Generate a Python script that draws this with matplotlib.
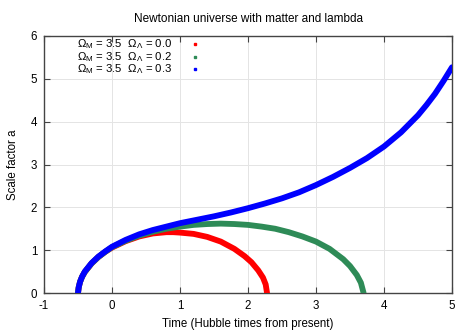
import matplotlib
matplotlib.use("Agg")
import matplotlib.pyplot as plt

plt.rcParams["font.family"] = ["Liberation Sans", "DejaVu Sans"]
plt.rcParams["mathtext.fontset"] = "custom"
plt.rcParams["mathtext.rm"] = "Liberation Sans"
plt.rcParams["mathtext.it"] = "Liberation Sans:italic"
plt.rcParams["axes.unicode_minus"] = False

# scale factor vs time
t_l00 = [-0.50, -0.49, -0.47, -0.44, -0.40, -0.30, -0.20, -0.10, 0.00, 0.20, 0.40, 0.60,
         0.80, 0.90, 1.00, 1.20, 1.40, 1.60, 1.80, 1.95, 2.05, 2.15, 2.22, 2.26, 2.28]
a_l00 = [0.00, 0.13, 0.26, 0.38, 0.49, 0.69, 0.84, 0.96, 1.06, 1.21, 1.32, 1.39,
         1.42, 1.42, 1.41, 1.38, 1.31, 1.20, 1.03, 0.86, 0.72, 0.53, 0.36, 0.20, 0.00]

t_l02 = [-0.50, -0.49, -0.47, -0.44, -0.40, -0.30, -0.20, -0.10, 0.00, 0.20, 0.40, 0.60,
         0.80, 1.00, 1.20, 1.40, 1.60, 1.80, 2.00, 2.20, 2.40, 2.60, 2.80, 3.00,
         3.20, 3.40, 3.50, 3.60, 3.66, 3.70]
a_l02 = [0.00, 0.13, 0.26, 0.38, 0.49, 0.69, 0.84, 0.96, 1.07, 1.22, 1.34, 1.43,
         1.50, 1.55, 1.59, 1.61, 1.62, 1.61, 1.59, 1.55, 1.50, 1.42, 1.32, 1.20,
         1.03, 0.79, 0.63, 0.42, 0.24, 0.00]

t_l03 = [-0.50, -0.49, -0.47, -0.44, -0.40, -0.30, -0.20, -0.10, 0.00, 0.20, 0.40, 0.60,
         0.80, 1.00, 1.25, 1.50, 1.75, 2.00, 2.25, 2.50, 2.75, 3.00, 3.25, 3.50,
         3.75, 4.00, 4.25, 4.50, 4.625, 4.75, 4.875, 5.00]
a_l03 = [0.00, 0.13, 0.26, 0.38, 0.50, 0.70, 0.85, 0.97, 1.08, 1.24, 1.37, 1.47,
         1.55, 1.63, 1.71, 1.79, 1.88, 1.98, 2.09, 2.21, 2.35, 2.52, 2.71, 2.92,
         3.15, 3.42, 3.75, 4.15, 4.39, 4.65, 4.95, 5.27]

labels = [r"$\Omega_{\rm M}$ = 3.5  $\Omega_{\Lambda}$ = 0.0",
          r"$\Omega_{\rm M}$ = 3.5  $\Omega_{\Lambda}$ = 0.2",
          r"$\Omega_{\rm M}$ = 3.5  $\Omega_{\Lambda}$ = 0.3"]
colors = ["#ff0000", "#2e8b57", "#0000ff"]

W, H = 474, 331
fig = plt.figure(figsize=(W / 100, H / 100), dpi=100)
ax = fig.add_axes([44 / W, 1 - 293 / H, 408 / W, 257 / H])

for t, a, c in zip([t_l00, t_l02, t_l03], [a_l00, a_l02, a_l03], colors):
    ax.plot(t, a, color=c, lw=4.2, solid_capstyle="round", solid_joinstyle="round", zorder=3)

ax.set_xlim(-1, 5)
ax.set_ylim(0, 6)
ax.set_xticks(range(-1, 6))
ax.set_yticks(range(0, 7))
ax.grid(True, color="#e4e4e4", lw=0.7)
ax.set_axisbelow(True)
ax.tick_params(direction="in", top=True, right=True, length=4, width=0.8,
               color="#444444", labelsize=8.3, pad=5)
for s in ax.spines.values():
    s.set_color("#444444")
    s.set_linewidth(1.0)

ax.set_title("Newtonian universe with matter and lambda", fontsize=8.5, pad=10)
ax.set_xlabel("Time (Hubble times from present)", fontsize=8.3, labelpad=4)
ax.set_ylabel("Scale factor a", fontsize=8.3, labelpad=8)

# key, gnuplot style: text right aligned, then a dot
for i, (lab, c) in enumerate(zip(labels, colors)):
    y = 44.0 + 12.6 * i
    fig.text(172 / W, 1 - (y + 3.4) / H, lab, ha="right", va="baseline", fontsize=8.2)
    ax.plot([195 / W], [1 - y / H], ls="none", marker="s", ms=2.0, color=c,
            transform=fig.transFigure, clip_on=False)

fig.savefig("out.png", dpi=100)
